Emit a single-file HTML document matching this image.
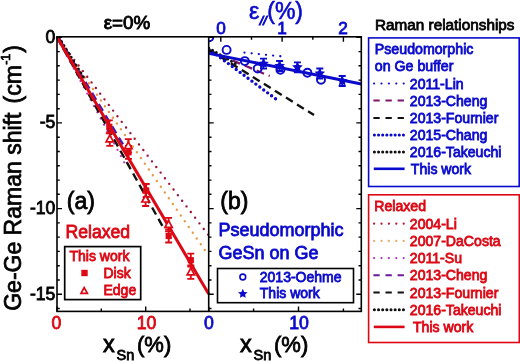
<!DOCTYPE html><html><head><meta charset="utf-8"><title>Raman shift</title>
<style>html,body{margin:0;padding:0;background:#fff}svg{display:block;filter:blur(0.35px)}text{font-family:"Liberation Sans",sans-serif}</style></head><body>
<svg width="520" height="362" viewBox="0 0 520 362">
<rect width="520" height="362" fill="#fff"/>
<g fill="none" stroke-linecap="butt">
<line x1="57.0" y1="37.3" x2="208.7" y2="235.4" stroke="#9a1038" stroke-width="2.35" stroke-dasharray="0 7.1" stroke-linecap="round"/>
<line x1="57.0" y1="37.3" x2="208.7" y2="255.7" stroke="#e69a48" stroke-width="2.35" stroke-dasharray="0 7.0" stroke-linecap="round"/>
<line x1="57.0" y1="37.3" x2="127.0" y2="167.5" stroke="#c030c0" stroke-width="2.3" stroke-dasharray="0 7.1" stroke-linecap="round"/>
<line x1="57.0" y1="37.3" x2="163.0" y2="227.0" stroke="#111" stroke-width="2.4" stroke-dasharray="8 5"/>
<line x1="58.5" y1="37.3" x2="124.5" y2="146.9" stroke="#4a18b0" stroke-width="2.4" stroke-dasharray="8 5"/>
<line x1="59.0" y1="37.8" x2="84.4" y2="78.9" stroke="#111" stroke-width="3.2" stroke-dasharray="0 4.6" stroke-linecap="round"/>
<line x1="57.0" y1="37.3" x2="208.7" y2="294.0" stroke="#dc0814" stroke-width="3.0"/>
</g>
<path d="M109.3 120.3V133.3M105.8 120.3H112.8M105.8 133.3H112.8" stroke="#dc0814" stroke-width="1.8" fill="none"/>
<path d="M128.5 145.8V158.8M125.0 145.8H132.0M125.0 158.8H132.0" stroke="#dc0814" stroke-width="1.8" fill="none"/>
<path d="M146.2 184.0V197.0M142.7 184.0H149.7M142.7 197.0H149.7" stroke="#dc0814" stroke-width="1.8" fill="none"/>
<path d="M168.7 229.5V242.5M165.2 229.5H172.2M165.2 242.5H172.2" stroke="#dc0814" stroke-width="1.8" fill="none"/>
<path d="M190.8 253.7V266.7M187.3 253.7H194.3M187.3 266.7H194.3" stroke="#dc0814" stroke-width="1.8" fill="none"/>
<path d="M109.8 132.3V145.8M106.3 132.3H113.3M106.3 145.8H113.3" stroke="#dc0814" stroke-width="1.8" fill="none"/>
<path d="M128.3 139.1V152.6M124.8 139.1H131.8M124.8 152.6H131.8" stroke="#dc0814" stroke-width="1.8" fill="none"/>
<path d="M145.6 192.5V206.0M142.1 192.5H149.1M142.1 206.0H149.1" stroke="#dc0814" stroke-width="1.8" fill="none"/>
<path d="M168.6 217.8V231.3M165.1 217.8H172.1M165.1 231.3H172.1" stroke="#dc0814" stroke-width="1.8" fill="none"/>
<path d="M190.8 265.3V278.8M187.3 265.3H194.3M187.3 278.8H194.3" stroke="#dc0814" stroke-width="1.8" fill="none"/>
<rect x="106.2" y="123.7" width="6.2" height="6.2" fill="#dc0814"/>
<rect x="125.4" y="149.2" width="6.2" height="6.2" fill="#dc0814"/>
<rect x="143.1" y="187.4" width="6.2" height="6.2" fill="#dc0814"/>
<rect x="165.6" y="232.9" width="6.2" height="6.2" fill="#dc0814"/>
<rect x="187.7" y="257.1" width="6.2" height="6.2" fill="#dc0814"/>
<path d="M109.8 135.1L113.5 141.8H106.1Z" fill="#fff" stroke="#dc0814" stroke-width="1.7" stroke-linejoin="miter"/>
<path d="M128.3 141.9L132.0 148.6H124.6Z" fill="#fff" stroke="#dc0814" stroke-width="1.7" stroke-linejoin="miter"/>
<path d="M145.6 195.3L149.3 202.0H141.9Z" fill="#fff" stroke="#dc0814" stroke-width="1.7" stroke-linejoin="miter"/>
<path d="M168.6 220.6L172.3 227.3H164.9Z" fill="#fff" stroke="#dc0814" stroke-width="1.7" stroke-linejoin="miter"/>
<path d="M190.8 268.1L194.5 274.8H187.1Z" fill="#fff" stroke="#dc0814" stroke-width="1.7" stroke-linejoin="miter"/>
<clipPath id="cb"><rect x="208.7" y="36.8" width="152.60000000000002" height="274.59999999999997"/></clipPath>
<g fill="none" clip-path="url(#cb)">
<line x1="244.5" y1="52.6" x2="283.5" y2="56.6" stroke="#0a0acc" stroke-width="2.3" stroke-dasharray="0 7.2" stroke-linecap="round"/>
<line x1="208.7" y1="50.5" x2="269.7" y2="76.0" stroke="#801468" stroke-width="2.2" stroke-dasharray="8 5"/>
<line x1="208.7" y1="49.5" x2="314.0" y2="115.0" stroke="#111" stroke-width="2.4" stroke-dasharray="8 5"/>
<line x1="208.7" y1="49.0" x2="279.0" y2="101.3" stroke="#0a0acc" stroke-width="3.4" stroke-dasharray="0 4.9" stroke-linecap="round"/>
<line x1="208.7" y1="48.0" x2="236.0" y2="64.0" stroke="#111" stroke-width="3" stroke-dasharray="0 4.4" stroke-linecap="round"/>
<line x1="208.7" y1="53.4" x2="361.3" y2="84.0" stroke="#0a0acc" stroke-width="3.0"/>
</g>
<g clip-path="url(#cb)">
<circle cx="209.3" cy="37.3" r="4.0" fill="none" stroke="#0a0acc" stroke-width="1.9"/>
</g>
<circle cx="226.6" cy="49.9" r="4.0" fill="none" stroke="#0a0acc" stroke-width="1.9"/>
<circle cx="244.8" cy="61.1" r="4.0" fill="none" stroke="#0a0acc" stroke-width="1.9"/>
<circle cx="257.7" cy="68.6" r="4.0" fill="none" stroke="#0a0acc" stroke-width="1.9"/>
<circle cx="280.4" cy="69.8" r="4.0" fill="none" stroke="#0a0acc" stroke-width="1.9"/>
<circle cx="307.4" cy="72.8" r="4.0" fill="none" stroke="#0a0acc" stroke-width="1.9"/>
<circle cx="321.0" cy="79.8" r="4.0" fill="none" stroke="#0a0acc" stroke-width="1.9"/>
<path d="M263.5 58.6V68.6M260.0 58.6H267.0M260.0 68.6H267.0" stroke="#0a0acc" stroke-width="1.8" fill="none"/>
<polygon points="263.5,58.0 265.1,61.4 268.8,61.9 266.1,64.4 266.8,68.1 263.5,66.3 260.2,68.1 260.9,64.4 258.2,61.9 261.9,61.4" fill="#0a0acc"/>
<path d="M279.6 61.0V71.0M276.1 61.0H283.1M276.1 71.0H283.1" stroke="#0a0acc" stroke-width="1.8" fill="none"/>
<polygon points="279.6,60.4 281.2,63.8 284.9,64.3 282.2,66.8 282.9,70.5 279.6,68.7 276.3,70.5 277.0,66.8 274.3,64.3 278.0,63.8" fill="#0a0acc"/>
<path d="M297.4 62.3V72.3M293.9 62.3H300.9M293.9 72.3H300.9" stroke="#0a0acc" stroke-width="1.8" fill="none"/>
<polygon points="297.4,61.7 299.0,65.1 302.7,65.6 300.0,68.1 300.7,71.8 297.4,70.0 294.1,71.8 294.8,68.1 292.1,65.6 295.8,65.1" fill="#0a0acc"/>
<path d="M319.8 68.5V78.5M316.3 68.5H323.3M316.3 78.5H323.3" stroke="#0a0acc" stroke-width="1.8" fill="none"/>
<polygon points="319.8,67.9 321.4,71.3 325.1,71.8 322.4,74.3 323.1,78.0 319.8,76.2 316.5,78.0 317.2,74.3 314.5,71.8 318.2,71.3" fill="#0a0acc"/>
<path d="M342.2 76.0V86.0M338.7 76.0H345.7M338.7 86.0H345.7" stroke="#0a0acc" stroke-width="1.8" fill="none"/>
<polygon points="342.2,75.4 343.8,78.8 347.5,79.3 344.8,81.8 345.5,85.5 342.2,83.7 338.9,85.5 339.6,81.8 336.9,79.3 340.6,78.8" fill="#0a0acc"/>
<g stroke="#000" stroke-width="1.6" fill="none">
<rect x="57.0" y="36.8" width="304.3" height="274.59999999999997"/>
<line x1="208.7" y1="36.8" x2="208.7" y2="311.4"/>
</g>
<path d="M57.0 37.3h5M208.7 37.3h5M361.3 37.3h-5M57.0 51.6h2.8M208.7 51.6h2.8M361.3 51.6h-2.8M57.0 65.8h2.8M208.7 65.8h2.8M361.3 65.8h-2.8M57.0 80.1h2.8M208.7 80.1h2.8M361.3 80.1h-2.8M57.0 94.4h2.8M208.7 94.4h2.8M361.3 94.4h-2.8M57.0 108.7h2.8M208.7 108.7h2.8M361.3 108.7h-2.8M57.0 122.9h5M208.7 122.9h5M361.3 122.9h-5M57.0 137.2h2.8M208.7 137.2h2.8M361.3 137.2h-2.8M57.0 151.5h2.8M208.7 151.5h2.8M361.3 151.5h-2.8M57.0 165.8h2.8M208.7 165.8h2.8M361.3 165.8h-2.8M57.0 180.1h2.8M208.7 180.1h2.8M361.3 180.1h-2.8M57.0 194.3h2.8M208.7 194.3h2.8M361.3 194.3h-2.8M57.0 208.6h5M208.7 208.6h5M361.3 208.6h-5M57.0 222.9h2.8M208.7 222.9h2.8M361.3 222.9h-2.8M57.0 237.1h2.8M208.7 237.1h2.8M361.3 237.1h-2.8M57.0 251.4h2.8M208.7 251.4h2.8M361.3 251.4h-2.8M57.0 265.7h2.8M208.7 265.7h2.8M361.3 265.7h-2.8M57.0 280.0h2.8M208.7 280.0h2.8M361.3 280.0h-2.8M57.0 294.2h5M208.7 294.2h5M361.3 294.2h-5M57.0 308.5h2.8M208.7 308.5h2.8M361.3 308.5h-2.8M57.0 311.4v-5M208.7 311.4v-5M101.3 311.4v-3M253.6 311.4v-3M145.7 311.4v-5M298.5 311.4v-5M190.0 311.4v-3M343.4 311.4v-3M220.8 36.8v5M251.5 36.8v3M282.1 36.8v5M312.8 36.8v3M343.4 36.8v5" stroke="#000" stroke-width="1.4" fill="none"/>
<text x="55.4" y="42.6" font-size="17.6" fill="#000" stroke="#000" stroke-width="0.8" text-anchor="end" >0</text>
<text x="55.4" y="128.2" font-size="17.6" fill="#000" stroke="#000" stroke-width="0.8" text-anchor="end" >-5</text>
<text x="55.4" y="213.9" font-size="17.6" fill="#000" stroke="#000" stroke-width="0.8" text-anchor="end" >-10</text>
<text x="55.4" y="299.6" font-size="17.6" fill="#000" stroke="#000" stroke-width="0.8" text-anchor="end" >-15</text>
<text x="56.5" y="328.6" font-size="17.7" fill="#dc0814" stroke="#dc0814" stroke-width="0.8" text-anchor="middle" >0</text>
<text x="146.5" y="328.6" font-size="17.7" fill="#dc0814" stroke="#dc0814" stroke-width="0.8" text-anchor="middle" >10</text>
<text x="209" y="328.6" font-size="17.7" fill="#0a0acc" stroke="#0a0acc" stroke-width="0.8" text-anchor="middle" >0</text>
<text x="299" y="328.6" font-size="17.7" fill="#0a0acc" stroke="#0a0acc" stroke-width="0.8" text-anchor="middle" >10</text>
<text x="221" y="34.3" font-size="17.2" fill="#0a0acc" stroke="#0a0acc" stroke-width="0.8" text-anchor="middle" >0</text>
<text x="282" y="34.3" font-size="17.2" fill="#0a0acc" stroke="#0a0acc" stroke-width="0.8" text-anchor="middle" >1</text>
<text x="343" y="34.3" font-size="17.2" fill="#0a0acc" stroke="#0a0acc" stroke-width="0.8" text-anchor="middle" >2</text>
<text x="127" y="28.8" font-size="18.8" fill="#000" stroke="#000" stroke-width="0.9" text-anchor="middle" >ε=0%</text>
<text x="249" y="18.5" font-size="23" fill="#0a0acc" stroke="#0a0acc" stroke-width="0.6">ε<tspan font-size="12.5" font-style="italic" dy="6" dx="0.5" stroke-width="1">//</tspan><tspan dy="-6" dx="0.5">(%)</tspan></text>
<text y="352.3" font-size="23.5" fill="#000" stroke="#000" stroke-width="0.8"><tspan x="103">x</tspan><tspan font-size="14.5" x="116.5" dy="8">Sn</tspan><tspan x="137" dy="-8.5" font-size="22">(%)</tspan></text>
<text y="352.3" font-size="23.5" fill="#000" stroke="#000" stroke-width="0.8"><tspan x="240">x</tspan><tspan font-size="14.5" x="253.5" dy="8">Sn</tspan><tspan x="274" dy="-8.5" font-size="22">(%)</tspan></text>
<text transform="translate(21.3 310.8) rotate(-90)" font-size="23" fill="#000" stroke="#000" stroke-width="0.75">Ge-Ge Raman shift<tspan dx="9.2">(cm</tspan><tspan font-size="12.5" dy="-11.5" dx="0.3">-1</tspan><tspan dy="11.5" dx="1">)</tspan></text>
<text x="66.8" y="209.3" font-size="23" fill="#000" stroke="#000" stroke-width="0.8" text-anchor="start" >(a)</text>
<text x="220.3" y="209.3" font-size="23" fill="#000" stroke="#000" stroke-width="0.8" text-anchor="start" >(b)</text>
<text x="65.5" y="238" font-size="17.6" fill="#dc0814" stroke="#dc0814" stroke-width="0.8" text-anchor="start" >Relaxed</text>
<text x="218.5" y="236.3" font-size="18" fill="#0a0acc" stroke="#0a0acc" stroke-width="0.8" text-anchor="start" >Pseudomorphic</text>
<text x="218.5" y="258.5" font-size="18" fill="#0a0acc" stroke="#0a0acc" stroke-width="0.8" text-anchor="start" >GeSn on Ge</text>
<rect x="64.7" y="246.6" width="76" height="53" fill="#fff" stroke="#000" stroke-width="1.7"/>
<text x="69.5" y="261.2" font-size="14" fill="#dc0814" stroke="#dc0814" stroke-width="0.8" text-anchor="start" >This work</text>
<text x="103.5" y="277.5" font-size="14" fill="#dc0814" stroke="#dc0814" stroke-width="0.8" text-anchor="start" >Disk</text>
<text x="103.5" y="295" font-size="14" fill="#dc0814" stroke="#dc0814" stroke-width="0.8" text-anchor="start" >Edge</text>
<rect x="81.3" y="269.8" width="6.4" height="6.4" fill="#dc0814"/>
<path d="M84.2 287.6L87.4 293.4H81.0Z" fill="#fff" stroke="#dc0814" stroke-width="1.7" stroke-linejoin="miter"/>
<rect x="217.5" y="268.5" width="136" height="34.2" fill="#fff" stroke="#000" stroke-width="1.6"/>
<text x="259.8" y="281.5" font-size="14" fill="#0a0acc" stroke="#0a0acc" stroke-width="0.8" text-anchor="start" >2013-Oehme</text>
<text x="259.8" y="297.8" font-size="14" fill="#0a0acc" stroke="#0a0acc" stroke-width="0.8" text-anchor="start" >This work</text>
<circle cx="242.8" cy="277.0" r="2.9" fill="none" stroke="#0a0acc" stroke-width="1.6"/>
<polygon points="242.8,288.8 244.2,291.9 247.6,292.3 245.1,294.5 245.7,297.8 242.8,296.2 239.9,297.8 240.5,294.5 238.0,292.3 241.4,291.9" fill="#0a0acc"/>
<text x="375" y="29.7" font-size="15.3" fill="#000" stroke="#000" stroke-width="0.8" text-anchor="start" >Raman relationships</text>
<rect x="368.6" y="37.9" width="150.6" height="148.6" fill="#fff" stroke="#0a0acc" stroke-width="1.6"/>
<rect x="368.6" y="194.8" width="150.7" height="147.7" fill="#fff" stroke="#dc0814" stroke-width="1.6"/>
<text x="374.8" y="54" font-size="14.2" fill="#0a0acc" stroke="#0a0acc" stroke-width="0.8" text-anchor="start" >Pseudomorphic</text>
<text x="374.8" y="71" font-size="14.2" fill="#0a0acc" stroke="#0a0acc" stroke-width="0.8" text-anchor="start" >on Ge buffer</text>
<line x1="374.1" y1="83.5" x2="404.6" y2="83.5" stroke="#0a0acc" stroke-width="2.2" stroke-dasharray="0 7.4" stroke-linecap="round"/>
<text x="409.8" y="88.5" font-size="14.1" fill="#0a0acc" stroke="#0a0acc" stroke-width="0.8" text-anchor="start" >2011-Lin</text>
<line x1="373.4" y1="100.5" x2="404.6" y2="100.5" stroke="#801468" stroke-width="2.1" stroke-dasharray="6.3 5.8"/>
<text x="409.8" y="105.5" font-size="14.1" fill="#0a0acc" stroke="#0a0acc" stroke-width="0.8" text-anchor="start" >2013-Cheng</text>
<line x1="373.4" y1="118.0" x2="404.6" y2="118.0" stroke="#111" stroke-width="2.1" stroke-dasharray="6.3 5.8"/>
<text x="409.8" y="123" font-size="14.1" fill="#0a0acc" stroke="#0a0acc" stroke-width="0.8" text-anchor="start" >2013-Fournier</text>
<line x1="374.4" y1="135.0" x2="404.6" y2="135.0" stroke="#0a0acc" stroke-width="3.1" stroke-dasharray="0 4.15" stroke-linecap="round"/>
<text x="409.8" y="140" font-size="14.1" fill="#0a0acc" stroke="#0a0acc" stroke-width="0.8" text-anchor="start" >2015-Chang</text>
<line x1="374.4" y1="152.0" x2="404.6" y2="152.0" stroke="#111" stroke-width="3.1" stroke-dasharray="0 4.15" stroke-linecap="round"/>
<text x="409.8" y="157" font-size="14.1" fill="#0a0acc" stroke="#0a0acc" stroke-width="0.8" text-anchor="start" >2016-Takeuchi</text>
<line x1="373.8" y1="168.8" x2="404.6" y2="168.8" stroke="#0a0acc" stroke-width="2.6"/>
<text x="410.8" y="173.8" font-size="14.1" fill="#0a0acc" stroke="#0a0acc" stroke-width="0.8" text-anchor="start" >This work</text>
<text x="374.3" y="211.4" font-size="14.1" fill="#dc0814" stroke="#dc0814" stroke-width="0.8" text-anchor="start" >Relaxed</text>
<line x1="374.1" y1="223.7" x2="404.6" y2="223.7" stroke="#b81030" stroke-width="2.2" stroke-dasharray="0 7.4" stroke-linecap="round"/>
<text x="409.8" y="228.7" font-size="14.1" fill="#dc0814" stroke="#dc0814" stroke-width="0.8" text-anchor="start" >2004-Li</text>
<line x1="374.1" y1="240.9" x2="404.6" y2="240.9" stroke="#e8a860" stroke-width="2.2" stroke-dasharray="0 7.4" stroke-linecap="round"/>
<text x="409.8" y="245.9" font-size="14.1" fill="#dc0814" stroke="#dc0814" stroke-width="0.8" text-anchor="start" >2007-DaCosta</text>
<line x1="374.1" y1="258.1" x2="404.6" y2="258.1" stroke="#b030c0" stroke-width="2.2" stroke-dasharray="0 7.4" stroke-linecap="round"/>
<text x="409.8" y="263.1" font-size="14.1" fill="#dc0814" stroke="#dc0814" stroke-width="0.8" text-anchor="start" >2011-Su</text>
<line x1="373.4" y1="275.3" x2="404.6" y2="275.3" stroke="#6a1aa0" stroke-width="2.1" stroke-dasharray="6.3 5.8"/>
<text x="409.8" y="280.3" font-size="14.1" fill="#dc0814" stroke="#dc0814" stroke-width="0.8" text-anchor="start" >2013-Cheng</text>
<line x1="373.4" y1="292.5" x2="404.6" y2="292.5" stroke="#111" stroke-width="2.1" stroke-dasharray="6.3 5.8"/>
<text x="409.8" y="297.5" font-size="14.1" fill="#dc0814" stroke="#dc0814" stroke-width="0.8" text-anchor="start" >2013-Fournier</text>
<line x1="374.4" y1="309.7" x2="404.6" y2="309.7" stroke="#111" stroke-width="3.1" stroke-dasharray="0 4.15" stroke-linecap="round"/>
<text x="409.8" y="314.7" font-size="14.1" fill="#dc0814" stroke="#dc0814" stroke-width="0.8" text-anchor="start" >2016-Takeuchi</text>
<line x1="373.8" y1="326.9" x2="404.6" y2="326.9" stroke="#dc0814" stroke-width="2.6"/>
<text x="413" y="331.9" font-size="14.1" fill="#dc0814" stroke="#dc0814" stroke-width="0.8" text-anchor="start" >This work</text>
</svg></body></html>
